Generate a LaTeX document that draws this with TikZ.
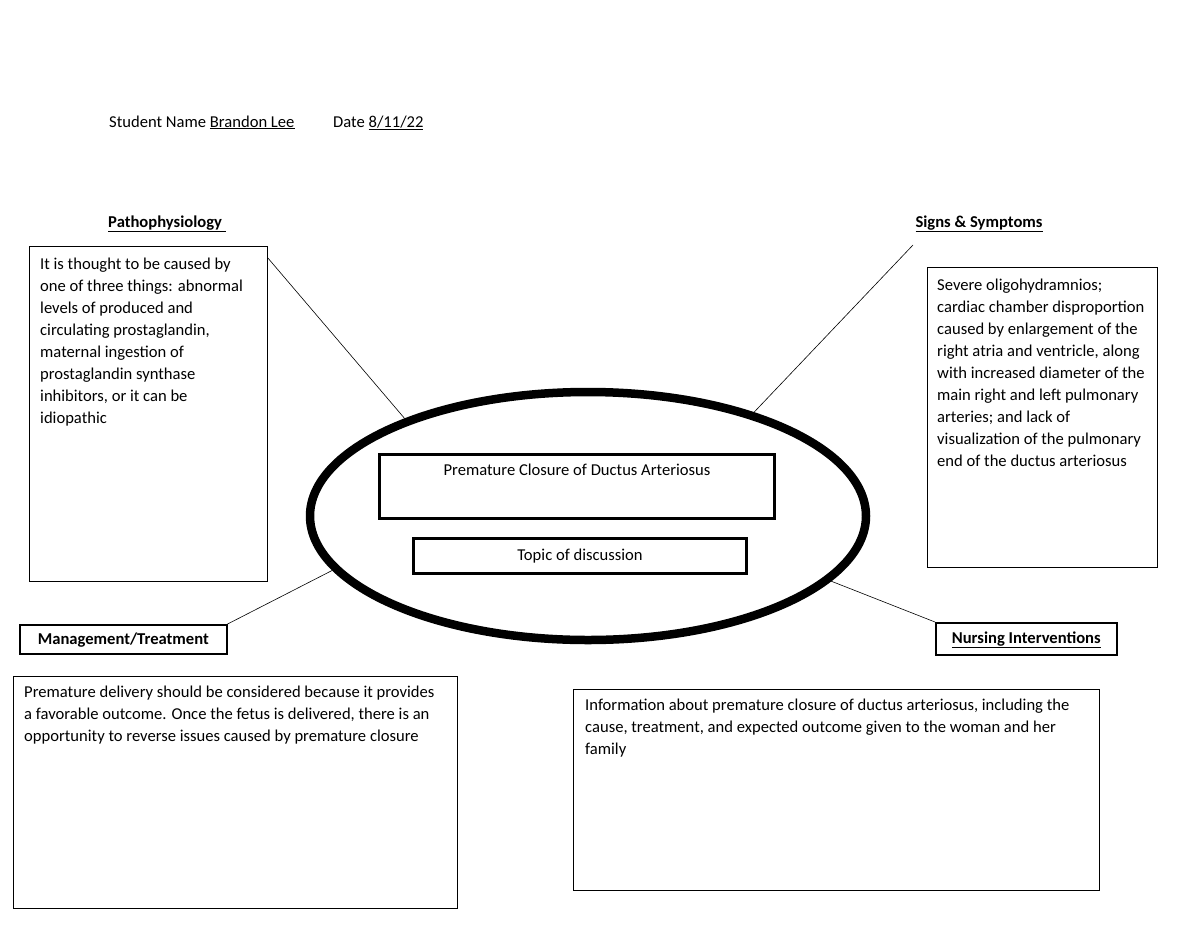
\documentclass[tikz,border=0pt]{standalone}
\usepackage{fontspec}
\setmainfont{Carlito}
\usetikzlibrary{shapes.geometric}
\newcommand{\bodyfont}{\fontsize{16.6}{22}\selectfont}
\tikzset{
  txt/.style={anchor=north west, inner sep=0pt, align=left, font=\bodyfont},
  lbl/.style={inner sep=0pt, font=\bodyfont},
  thinbox/.style={draw, line width=0.9pt, anchor=north west, inner sep=0pt},
  tagbox/.style={draw, line width=1.6pt, anchor=north west, inner sep=0pt, font=\bodyfont\bfseries},
  thickbox/.style={draw, line width=3pt, anchor=north west, inner sep=0pt},
  spoke/.style={line width=0.6pt}
}
\begin{document}
\begin{tikzpicture}[x=1pt,y=-1pt]
\useasboundingbox (0,0) rectangle (1200,927);
% header
\node[lbl, anchor=base west] (name) at (109,127) {Student Name \underline{Brandon Lee}};
\node[lbl, anchor=base west] (date) at (333,127) {Date \underline{8/11/22}};
% section titles
\node[lbl, font=\bodyfont\bfseries] (pathott) at (167,224) {\underline{Pathophysiology\ }};
\node[lbl, font=\bodyfont\bfseries] (sstt) at (979,224) {\underline{Signs \& Symptoms}};
% pathophysiology box
\node[thinbox, minimum width=238pt, minimum height=335pt] (patho) at (29,246) {};
\node[txt] (pathotxt) at ([xshift=11pt,yshift=-12pt]patho.north west) {It is thought to be caused by\\one of three things: abnormal\\levels of produced and\\circulating prostaglandin,\\maternal ingestion of\\prostaglandin synthase\\inhibitors, or it can be\\idiopathic};
% signs box
\node[thinbox, minimum width=230pt, minimum height=300pt] (ss) at (927,267) {};
\node[txt] (sstxt) at ([xshift=10pt,yshift=-12pt]ss.north west) {Severe oligohydramnios;\\cardiac chamber disproportion\\caused by enlargement of the\\right atria and ventricle, along\\with increased diameter of the\\main right and left pulmonary\\arteries; and lack of\\visualization of the pulmonary\\end of the ductus arteriosus};
% central ellipse
\node[draw, ellipse, line width=8.5pt, minimum width=556pt, minimum height=248pt, inner sep=0pt] (topic) at (588,516) {};
\node[thickbox, minimum width=395pt, minimum height=64pt] (title) at (378,453) {};
\node[lbl, anchor=base] (titletxt) at ([yshift=-22pt]title.north) {Premature Closure of Ductus Arteriosus};
\node[thickbox, minimum width=333pt, minimum height=35pt] (disc) at (412,537) {};
\node[lbl] (disctxt) at (disc.center) {Topic of discussion};
% management
\node[tagbox, minimum width=207pt, minimum height=29pt] (mgmt) at (19,624) {};
\node[lbl, font=\bodyfont\bfseries] (mgmttt) at ([yshift=-1pt]mgmt.center) {Management/Treatment};
\node[thinbox, minimum width=444pt, minimum height=232pt] (mgmtbox) at (13,676) {};
\node[txt] (mgmttxt) at ([xshift=11pt,yshift=-10pt]mgmtbox.north west) {Premature delivery should be considered because it provides\\a favorable outcome. Once the fetus is delivered, there is an\\opportunity to reverse issues caused by premature closure};
% nursing
\node[tagbox, minimum width=181pt, minimum height=32pt] (nurs) at (935,622) {};
\node[lbl, font=\bodyfont\bfseries] (nurstt) at ([yshift=-1pt]nurs.center) {\underline{Nursing Interventions}};
\node[thinbox, minimum width=526pt, minimum height=201pt] (nursbox) at (573,689) {};
\node[txt] (nurstxt) at ([xshift=12pt,yshift=-10pt]nursbox.north west) {Information about premature closure of ductus arteriosus, including the\\cause, treatment, and expected outcome given to the woman and her\\family};
% spokes
\coordinate (ssend) at (913,245);
\draw[spoke] ([yshift=-12pt]patho.north east) -- (topic.152);
\draw[spoke] (ssend) -- (topic.32);
\draw[spoke] (mgmt.north east) -- (topic.192);
\draw[spoke] (nurs.north west) -- (topic.345);
\end{tikzpicture}
\end{document}
